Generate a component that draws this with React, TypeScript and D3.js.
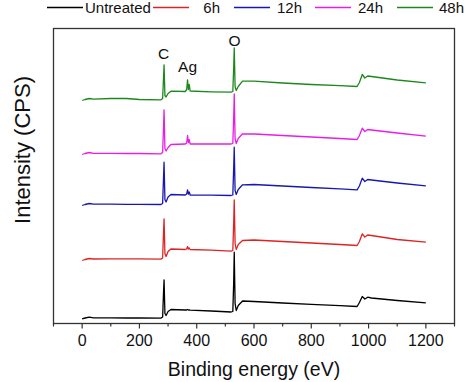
import React from "react";
import * as d3 from "d3";

// Binding energies (eV) shared by all spectra
const energy = [0, 10, 25, 40, 100, 155, 200, 275, 281, 284, 286, 289, 293, 300, 310, 360, 365, 368, 371, 374, 377, 450, 520, 526, 529, 531, 534, 538, 545, 560, 600, 700, 800, 900, 960, 968, 978, 987, 997, 1010, 1100, 1200];

// Intensities (arbitrary, stacked offsets included)
const untreated = [4.7, 5.5, 6.3, 5.7, 5.6, 5.5, 5.5, 5.4, 6.5, 30, 43.7, 10, 8, 12, 14, 13.5, 13.5, 14, 13.5, 13.7, 13.4, 12.5, 11.5, 12, 40, 71.3, 20, 13, 18, 22.5, 22, 20.5, 19.2, 17.8, 17, 21, 27, 24.5, 26.3, 25.5, 23, 20.7];
const h6 = [63, 64, 65, 64.5, 64.6, 64.6, 64.6, 64.4, 65.5, 90, 104.7, 70, 67, 72, 74.5, 74, 74.5, 77, 74.5, 75.5, 74, 73.3, 72.3, 73, 100, 123.7, 80, 74, 79, 83, 83.5, 82, 80.5, 79, 78, 82, 89.7, 86.5, 88.5, 88, 84, 81.3];
const h12 = [118, 119, 120, 119.3, 119.3, 119.2, 119.2, 119, 120, 145, 161.3, 124, 121.5, 126.5, 129, 128.5, 129.5, 133.7, 129.5, 131.5, 128.5, 128.3, 128, 128.5, 155, 176.3, 133, 129, 134, 138.7, 139, 137.5, 136, 134.6, 133.7, 137.5, 145.3, 142, 144, 143.5, 140.5, 137.7];
const h24 = [169, 170, 171, 170.2, 170.2, 170, 170, 169.7, 171, 195, 213.7, 175, 172.5, 176, 179, 179.5, 180.5, 188, 181, 184, 179.5, 179.5, 179.5, 180, 205, 229.7, 185, 180, 185, 189.7, 189.5, 188, 186.5, 185, 184, 188, 195.3, 192, 194, 193.5, 190.5, 187.3];
const h48 = [223, 224, 225, 224.3, 225, 225, 224, 223.7, 225, 245, 258.7, 228, 226.5, 230, 232.3, 232, 234, 243.7, 234, 239, 232.5, 231.7, 231.3, 232, 255, 275.7, 237, 233, 237, 242.3, 242.3, 240.5, 239, 237.8, 237, 241, 249, 245.5, 247.5, 247, 243.5, 240.7];

const seriesNames = ["Untreated", "6h", "12h", "24h", "48h"];
const seriesValues = [untreated, h6, h12, h24, h48];
const seriesColors = ["#000000", "#dc2424", "#1818b0", "#e61ee6", "#1c881c"];

const xTicks = d3.range(-100, 1301, 100);
const xLabels = [0, 200, 400, 600, 800, 1000, 1200];

const peakLabels = [
  { text: "C", e: 284, v: 264.2 },
  { text: "Ag", e: 368, v: 251.5 },
  { text: "O", e: 532, v: 277.5 },
];

export default function App() {
  const W = 474, H = 382;
  const left = 53.5, right = 454.5, top = 28.5, bottom = 323.5;
  const x = d3.scaleLinear().domain([-100, 1300]).range([left, right]);
  const y = d3.scaleLinear().domain([0, 295]).range([bottom, top]);
  const line = d3.line<number>().x((_, i) => x(energy[i])).y((d) => y(d));
  const font = "Arial, 'Liberation Sans', Helvetica, sans-serif";

  const legendLineX = [47, 153, 234, 315, 397];
  const legendTextX = [85, 220, 302, 383, 464];
  const legendAnchor = ["start", "end", "end", "end", "end"];

  return (
    <svg width={W} height={H} style={{ position: "absolute", left: 0, top: 0, background: "#fff" }} fontFamily={font}>
      <rect x={0} y={0} width={W} height={H} fill="#fff" />
      {/* legend */}
      {seriesNames.map((n, i) => (
        <g key={n}>
          <line x1={legendLineX[i]} x2={legendLineX[i] + 36} y1={7.5} y2={7.5} stroke={seriesColors[i]} strokeWidth={1.6} />
          <text x={legendTextX[i]} y={13} fontSize={15} textAnchor={legendAnchor[i] as any} fill="#111">{n}</text>
        </g>
      ))}
      {/* series */}
      {seriesValues.map((vals, i) => (
        <path key={i} d={line(vals) || ""} fill="none" stroke={seriesColors[i]} strokeWidth={1.3} strokeLinejoin="round" />
      ))}
      {/* peak labels */}
      {peakLabels.map((p) => (
        <text key={p.text} x={x(p.e)} y={y(p.v)} fontSize={15.5} textAnchor="middle" fill="#111">{p.text}</text>
      ))}
      {/* frame */}
      <rect x={left} y={top} width={right - left} height={bottom - top} fill="none" stroke="#333" strokeWidth={1.3} />
      {/* x ticks */}
      {xTicks.map((t) => (
        <line key={t} x1={x(t)} x2={x(t)} y1={bottom} y2={bottom + (t % 200 === 0 ? 5 : 3)} stroke="#333" strokeWidth={1.2} />
      ))}
      {xLabels.map((t) => (
        <text key={t} x={x(t)} y={345.8} fontSize={16} textAnchor="middle" fill="#111">{t}</text>
      ))}
      <text x={254} y={375.5} fontSize={19.5} textAnchor="middle" fill="#111">Binding energy (eV)</text>
      <text transform="translate(29.5,150) rotate(-90)" fontSize={22} textAnchor="middle" fill="#111">Intensity (CPS)</text>
    </svg>
  );
}
